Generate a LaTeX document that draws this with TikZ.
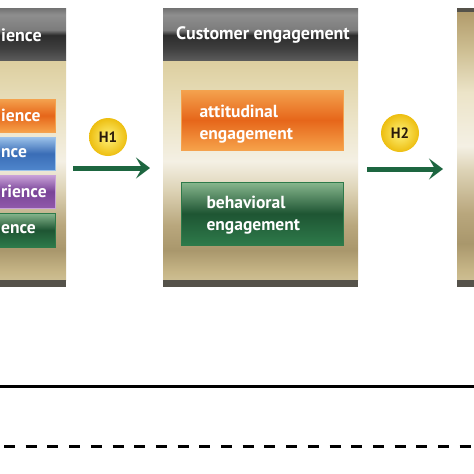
\documentclass[tikz,border=0pt]{standalone}
\usepackage{fontspec}
\setmainfont{PT Sans}
\usetikzlibrary{arrows.meta,shadings}
\definecolor{tA}{HTML}{CDBE92}
\definecolor{tB}{HTML}{C6B586}
\definecolor{tC}{HTML}{A9976C}
\definecolor{tD}{HTML}{B9A77D}
\definecolor{tE}{HTML}{DDD3B6}
\definecolor{tF}{HTML}{F4F0E4}
\definecolor{tG}{HTML}{ECE4C8}
\definecolor{tH}{HTML}{E2D6AC}
\definecolor{tI}{HTML}{DCCE9F}
\definecolor{gA}{HTML}{5A5A5A}
\definecolor{gB}{HTML}{3E3E3E}
\definecolor{gC}{HTML}{2C2C2C}
\definecolor{gD}{HTML}{7C7C7C}
\definecolor{gE}{HTML}{8E8E8E}
\definecolor{gF}{HTML}{727272}
\definecolor{rA}{HTML}{B29C6C}
\definecolor{arrowgreen}{HTML}{1D6640}
\definecolor{barcol}{HTML}{55524A}
\definecolor{OrT}{HTML}{F4A24E}
\definecolor{OrM}{HTML}{E6661A}
\definecolor{OrB}{HTML}{F6A24A}
\definecolor{BlT}{HTML}{9CC2EA}
\definecolor{BlM}{HTML}{3A6DB6}
\definecolor{BlB}{HTML}{4F86CC}
\definecolor{PuT}{HTML}{C9A2D9}
\definecolor{PuM}{HTML}{7A4598}
\definecolor{PuB}{HTML}{9058AA}
\definecolor{GrT}{HTML}{88B78E}
\definecolor{GrM}{HTML}{1E5533}
\definecolor{GrB}{HTML}{2E7A4A}
\definecolor{HyI}{HTML}{FFF27A}
\definecolor{HyO}{HTML}{EDBE10}
\definecolor{HyT}{HTML}{2A1A0A}
\pgfdeclareverticalshading{tanbody}{100bp}{color(0bp)=(tA); color(25bp)=(tA); color(27bp)=(tB); color(31.8bp)=(tC); color(37.5bp)=(tD); color(45.5bp)=(tE); color(52bp)=(tF); color(61bp)=(tG); color(70.5bp)=(tH); color(75bp)=(tI); color(100bp)=(tI)}
\pgfdeclareverticalshading{tanright}{100bp}{color(0bp)=(tA); color(25bp)=(tA); color(27bp)=(tB); color(31.8bp)=(tC); color(37.5bp)=(tD); color(45.5bp)=(tE); color(50bp)=(tF); color(60bp)=(tG); color(68bp)=(tA); color(75bp)=(rA); color(100bp)=(rA)}
\pgfdeclareverticalshading{grayhead}{100bp}{color(0bp)=(gA); color(25bp)=(gA); color(36.5bp)=(gB); color(49bp)=(gC); color(54bp)=(gD); color(68.5bp)=(gE); color(75bp)=(gF); color(100bp)=(gF)}
\tikzset{
  box/.style={anchor=north west, inner sep=0pt, outer sep=0pt, draw=none},
  colbody/.style={box, shading=tanbody},
  rightbody/.style={box, shading=tanright},
  colhead/.style={box, shading=grayhead},
  colbar/.style={box, fill=barcol},
  headtext/.style={inner sep=0pt, text=white, font=\bfseries\fontsize{18}{21}\selectfont},
  itemtext/.style={text=white, font=\bfseries\fontsize{17.5}{22}\selectfont, align=left},
  itembox/.style={box, draw=#1, line width=0.6pt},
  orangebox/.style={itembox=OrT, top color=OrT, bottom color=OrB, middle color=OrM},
  bluebox/.style={itembox=BlT, top color=BlT, bottom color=BlB, middle color=BlM},
  purplebox/.style={itembox=PuT, top color=PuT, bottom color=PuB, middle color=PuM},
  greenbox/.style={itembox=GrB, top color=GrT, bottom color=GrB, middle color=GrM},
  hyp/.style={circle, minimum size=38pt, inner sep=0pt, inner color=HyI, outer color=HyO, text=HyT, font=\bfseries\fontsize{15}{17}\selectfont},
  hyparrow/.style={draw=arrowgreen, line width=5pt, -{Stealth[length=14pt, width=21pt, inset=6pt]}},
  fragtext/.style={inner sep=0pt, text=white, font=\bfseries\fontsize{17.5}{20}\selectfont}
}
\begin{document}
\begin{tikzpicture}[x=1pt,y=-1pt]
\useasboundingbox (0,0) rectangle (474,474);
\clip (0,0) rectangle (474,474);
\fill[white] (0,0) rectangle (474,474);

% left column box
\node[colbody, minimum width=86pt, minimum height=220pt] (lbody) at (-20,60) {};
\node[colhead, minimum width=86pt, minimum height=52pt] (lhead) at (-20,8) {};
\node[colbar, minimum width=86pt, minimum height=7pt] (lbar) at (-20,280) {};
\node[headtext, anchor=west] (lht) at (1,35) {ience};
\node[orangebox, minimum width=75pt, minimum height=33pt] (l1) at (-20,99) {};
\node[bluebox, minimum width=75pt, minimum height=33pt] (l2) at (-20,137) {};
\node[purplebox, minimum width=75pt, minimum height=33pt] (l3) at (-20,175) {};
\node[greenbox, minimum width=75pt, minimum height=34pt] (l4) at (-20,213) {};
\node[fragtext, anchor=west] (l1t) at (1,115.5) {ience};
\node[fragtext, anchor=west] (l2t) at (1,153.5) {nce};
\node[fragtext, anchor=west] (l3t) at (1,191.5) {rience};
\node[fragtext, anchor=west] (l4t) at (1,229.5) {ence};

% middle column box
\node[colbody, minimum width=195pt, minimum height=220pt] (mbody) at (163,60) {};
\node[colhead, minimum width=195pt, minimum height=52pt] (mhead) at (163,8) {};
\node[colbar, minimum width=195pt, minimum height=7pt] (mbar) at (163,280) {};
\node[headtext] (mht) at (263,35) {Customer engagement};
\node[orangebox, minimum width=162pt, minimum height=60pt] (att) at (181,90) {};
\node[greenbox, minimum width=162pt, minimum height=63pt] (beh) at (181,182) {};
\node[itemtext, anchor=west] (attt) at (196,124) {attitudinal\\engagement};
\node[itemtext, anchor=west] (beht) at (203,215) {behavioral\\engagement};

% right column box
\node[rightbody, minimum width=40pt, minimum height=268pt] (rbody) at (457,12) {};
\node[colbar, minimum width=40pt, minimum height=4pt] (rtop) at (457,8) {};
\node[colbar, minimum width=40pt, minimum height=7pt] (rbar) at (457,280) {};

% hypotheses
\node[hyp] (h1) at (108,137) {H1};
\node[hyp] (h2) at (400,133) {H2};
\draw[hyparrow, shorten <=7pt, shorten >=13pt] ([yshift=2pt]lbody.east) -- ([yshift=2pt]mbody.west);
\draw[hyparrow, shorten <=9pt, shorten >=14pt] ([yshift=1pt]mbody.east) -- ([yshift=1pt]mbody.east -| rbody.west);

% horizontal rules
\coordinate (sl) at (0,386);
\coordinate (sr) at (474,386);
\draw[line width=3pt, black] (sl) -- (sr);
\coordinate (dl) at (4,446);
\coordinate (dr) at (474,446);
\draw[line width=3pt, black, dash pattern=on 11pt off 10.7pt] (dl) -- (dr);
\end{tikzpicture}
\end{document}
